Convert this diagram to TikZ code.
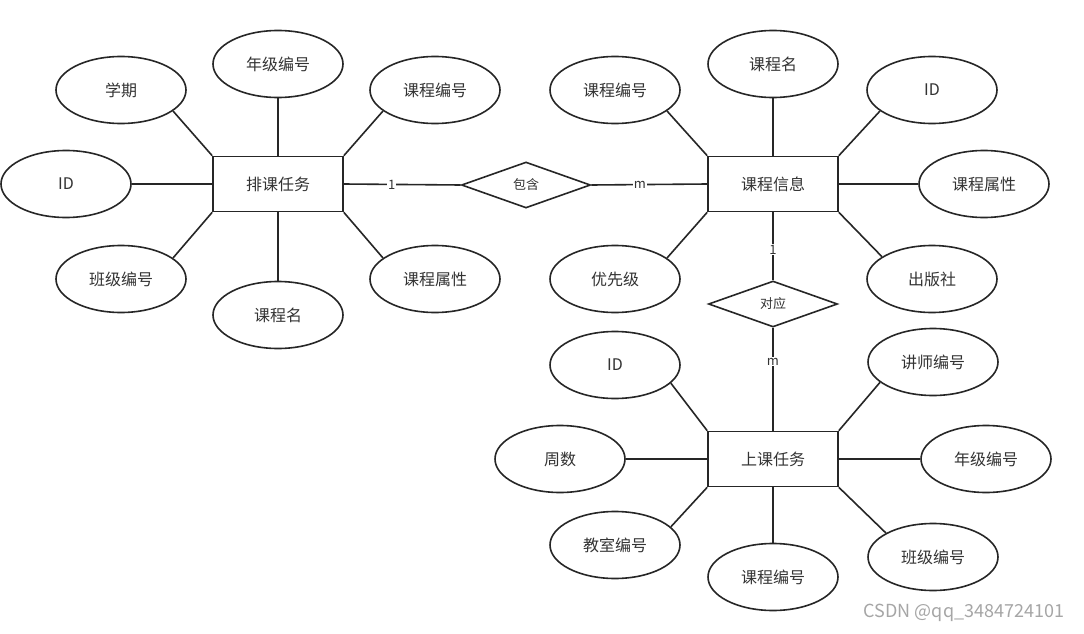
\documentclass[tikz,border=0pt]{standalone}
\usepackage{fontspec}
\setmainfont{Noto Sans CJK SC}
\usetikzlibrary{shapes.geometric}
\definecolor{lc}{HTML}{262626}
\definecolor{tc}{HTML}{333333}
\begin{document}
\begin{tikzpicture}[x=1pt,y=-1pt,
  attr/.style={draw=lc, line width=1.6pt, ellipse, minimum width=130pt, minimum height=67pt, inner sep=0pt, font=\fontsize{16}{16}\selectfont, text=tc},
  ent/.style={draw=lc, line width=1.6pt, rectangle, minimum width=130pt, minimum height=55pt, inner sep=0pt, font=\fontsize{16}{16}\selectfont, text=tc},
  rel/.style={draw=lc, line width=1.6pt, diamond, minimum width=129pt, minimum height=46pt, inner sep=0pt, font=\fontsize{13}{13}\selectfont, text=tc},
  conn/.style={draw=lc, line width=1.6pt},
  card/.style={fill=white, inner sep=1pt, font=\fontsize{13}{13}\selectfont, text=tc}]
\useasboundingbox[fill=white] (0,0) rectangle (1084,634);
% left cluster
\node[ent] (pk) at (278,184) {排课任务};
\node[attr] (xq) at (121,90) {学期};
\node[attr] (nj1) at (278,64) {年级编号};
\node[attr] (kcbh1) at (435,90) {课程编号};
\node[attr] (id1) at (66,184) {ID};
\node[attr] (bj1) at (121,279) {班级编号};
\node[attr] (kcm1) at (278,315) {课程名};
\node[attr] (kcsx1) at (435,279) {课程属性};
\draw[conn] (pk.north west) -- (xq.-22);
\draw[conn] (pk.north) -- (nj1);
\draw[conn] (pk.north east) -- (kcbh1.202);
\draw[conn] (pk.west) -- (id1);
\draw[conn] (pk.south west) -- (bj1.22);
\draw[conn] (pk.south) -- (kcm1);
\draw[conn] (pk.south east) -- (kcsx1.158);
% relation 包含
\node[rel] (bh) at (526,185) {包含};
% right cluster
\node[ent] (kx) at (773,184) {课程信息};
\node[attr] (kcbh2) at (615,90) {课程编号};
\node[attr] (kcm2) at (773,64) {课程名};
\node[attr] (id2) at (932,90) {ID};
\node[attr] (kcsx2) at (984,184) {课程属性};
\node[attr] (yxj) at (615,279) {优先级};
\node[attr] (cbs) at (932,279) {出版社};
\draw[conn] (kx.north west) -- (kcbh2.-22);
\draw[conn] (kx.north) -- (kcm2);
\draw[conn] (kx.north east) -- (id2.202);
\draw[conn] (kx.east) -- (kcsx2);
\draw[conn] (kx.south west) -- (yxj.22);
\draw[conn] (kx.south east) -- (cbs.156);
\draw[conn] (pk.east) -- node[card, pos=0.41] {1} (bh.west);
\draw[conn] (bh.east) -- node[card, pos=0.42] {m} (kx.west);
% relation 对应
\node[rel] (dy) at (773,304) {对应};
% lower cluster
\node[ent] (sk) at (773,459) {上课任务};
\node[attr] (id3) at (615,365) {ID};
\node[attr] (js) at (933,362) {讲师编号};
\node[attr] (zs) at (560,459) {周数};
\node[attr] (nj3) at (986,459) {年级编号};
\node[attr] (jsbh) at (615,545) {教室编号};
\node[attr] (kcbh3) at (773,577) {课程编号};
\node[attr] (bj3) at (933,557) {班级编号};
\draw[conn] (sk.north west) -- (id3.-18);
\draw[conn] (sk.north east) -- (js.201);
\draw[conn] (sk.west) -- (zs);
\draw[conn] (sk.east) -- (nj3);
\draw[conn] (sk.south west) -- (jsbh.18);
\draw[conn] (sk.south) -- (kcbh3);
\draw[conn] (sk.south east) -- (bj3.153);
\draw[conn] (kx.south) -- node[card, pos=0.55] {1} (dy.north);
\draw[conn] (dy.south) -- node[card, pos=0.33] {m} (sk.north);
% watermark
\node[text=black!35, font=\fontsize{18}{18}\selectfont, inner sep=0pt] (wm) at (964,613) {CSDN @qq\_3484724101};
\end{tikzpicture}
\end{document}
